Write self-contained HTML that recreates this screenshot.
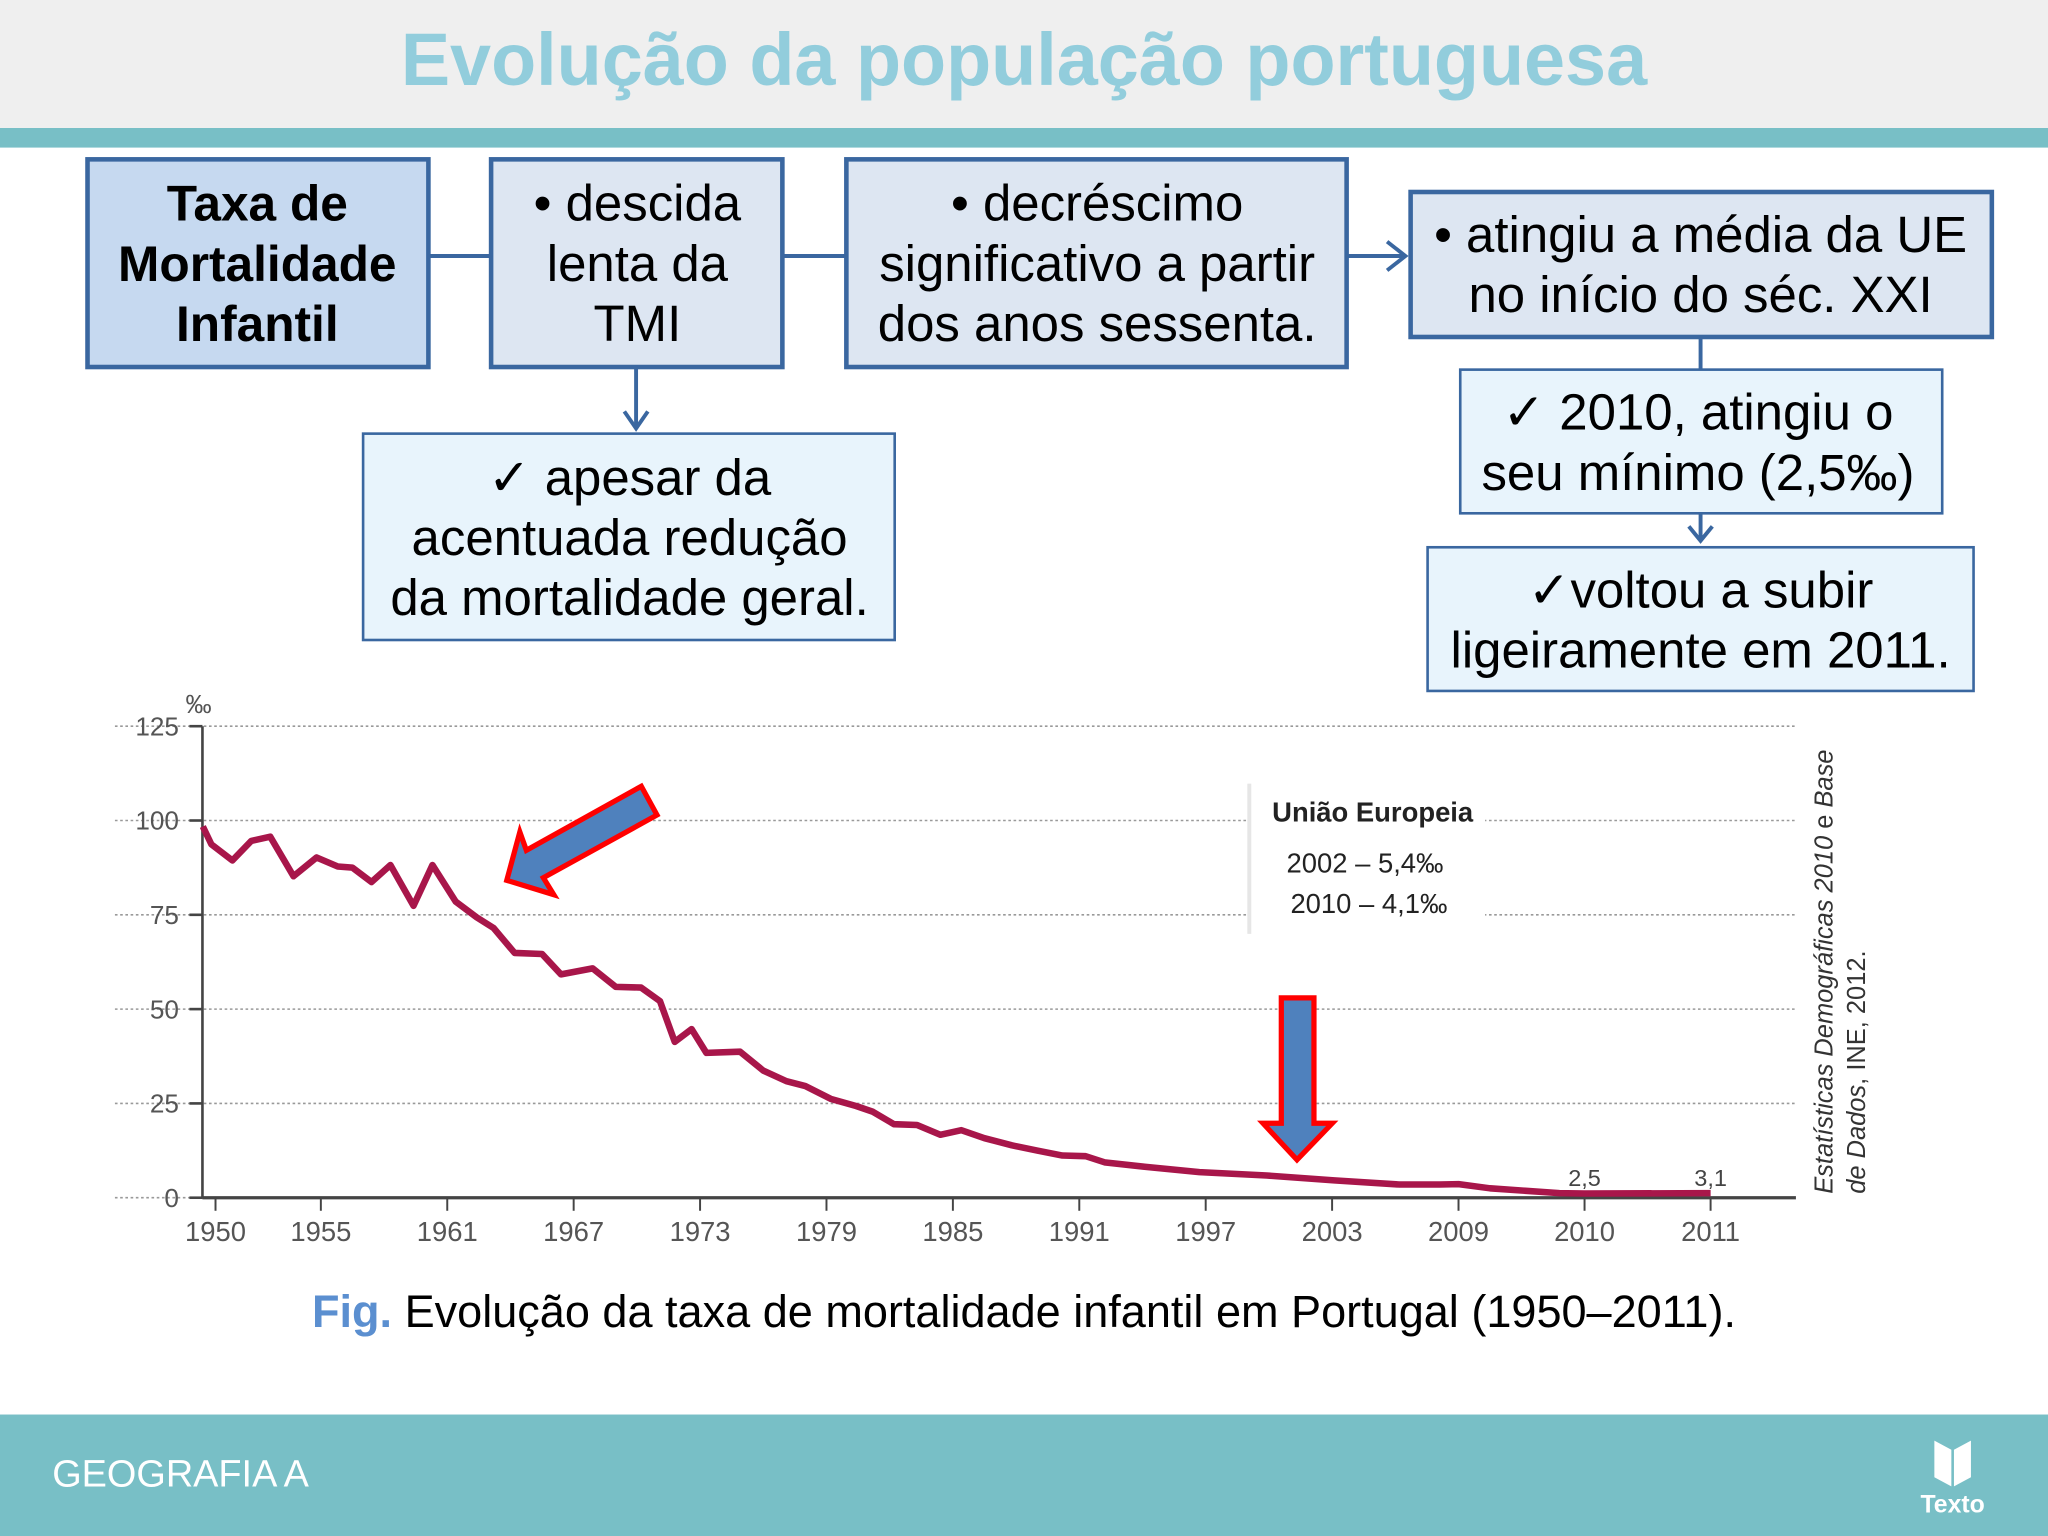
<!DOCTYPE html>
<html><head><meta charset="utf-8"><style>
html,body{margin:0;padding:0;background:#fff;}
svg{display:block;font-family:"Liberation Sans",sans-serif;}
</style></head><body>
<svg id="root" width="2048" height="1536" viewBox="0 0 1568 1176" xmlns="http://www.w3.org/2000/svg">
<rect x="0" y="0" width="1568" height="98" fill="#efefef"/>
<text x="784" y="65" text-anchor="middle" font-size="56.5" font-weight="bold" fill="#92cddc">Evolução da população portuguesa</text>
<rect x="0" y="98" width="1568" height="15" fill="#78bfc6"/>

<g stroke="#3a67a0" stroke-width="3" fill="none">
<line x1="328" y1="196" x2="376" y2="196"/>
<line x1="599" y1="196" x2="648" y2="196"/>
<line x1="1031" y1="196" x2="1076" y2="196"/>
<polyline points="1062,185 1076,196 1062,207"/>
<line x1="487" y1="281" x2="487" y2="328"/>
<polyline points="478,315 487,328 496,315"/>
<line x1="1302" y1="258" x2="1302" y2="283"/>
<line x1="1302" y1="393" x2="1302" y2="414"/>
<polyline points="1293,403 1302,414 1311,403"/>
</g>

<g>
<rect x="67" y="122" width="261" height="159" fill="#c6d9f0" stroke="#3a67a0" stroke-width="3.5"/>
<text font-size="38" font-weight="bold" fill="#000" text-anchor="middle"><tspan x="197" y="169">Taxa de</tspan><tspan x="197" y="215">Mortalidade</tspan><tspan x="197" y="261">Infantil</tspan></text>
</g>
<g>
<rect x="376" y="122" width="223" height="159" fill="#dde6f2" stroke="#3a67a0" stroke-width="3.5"/>
<text font-size="39" fill="#000" text-anchor="middle"><tspan x="488" y="169">• descida</tspan><tspan x="488" y="215">lenta da</tspan><tspan x="488" y="261">TMI</tspan></text>
</g>
<g>
<rect x="648" y="122" width="383" height="159" fill="#dde6f2" stroke="#3a67a0" stroke-width="3.5"/>
<text font-size="39" fill="#000" text-anchor="middle"><tspan x="840" y="169">• decréscimo</tspan><tspan x="840" y="215">significativo a partir</tspan><tspan x="840" y="261">dos anos sessenta.</tspan></text>
</g>
<g>
<rect x="1080" y="147" width="445" height="111" fill="#dde6f2" stroke="#3a67a0" stroke-width="3.5"/>
<text font-size="39" fill="#000" text-anchor="middle"><tspan x="1302" y="193">• atingiu a média da UE</tspan><tspan x="1302" y="239">no início do séc. XXI</tspan></text>
</g>
<g>
<rect x="1118" y="283" width="369" height="110" fill="#e8f4fc" stroke="#3a67a0" stroke-width="2"/>
<text font-size="39" fill="#000" text-anchor="middle"><tspan x="1300" y="329">✓ 2010, atingiu o</tspan><tspan x="1300" y="375">seu mínimo (2,5‰)</tspan></text>
</g>
<g>
<rect x="1093" y="419" width="418" height="110" fill="#e8f4fc" stroke="#3a67a0" stroke-width="2"/>
<text font-size="39" fill="#000" text-anchor="middle"><tspan x="1302" y="465">✓voltou a subir</tspan><tspan x="1302" y="511">ligeiramente em 2011.</tspan></text>
</g>
<g>
<rect x="278" y="332" width="407" height="158" fill="#e8f4fc" stroke="#3a67a0" stroke-width="2"/>
<text font-size="39" fill="#000" text-anchor="middle"><tspan x="482" y="379">✓ apesar da</tspan><tspan x="482" y="425">acentuada redução</tspan><tspan x="482" y="471">da mortalidade geral.</tspan></text>
</g>

<g id="chart"></g>

<g>
<rect x="955" y="597" width="182" height="121" fill="#fff"/>
<rect x="955" y="600" width="3" height="115" fill="#e6e6e6"/>
<text x="974" y="629" font-size="21" font-weight="bold" fill="#222">União Europeia</text>
<text x="985" y="668" font-size="21" fill="#222">2002 – 5,4‰</text>
<text x="988" y="699" font-size="21" fill="#222">2010 – 4,1‰</text>
</g>

<polygon points="388,674 398,637 403,651 491,602 503,624 416,672 424,685" fill="#4f81bd" stroke="#ff0000" stroke-width="4" stroke-linejoin="miter"/>
<polygon points="981,764 1006,764 1006,860 1020,860 993,888 967,860 981,860" fill="#4f81bd" stroke="#ff0000" stroke-width="4"/>

<text transform="translate(1403,914) rotate(-90)" font-size="19.5" fill="#333"><tspan font-style="italic">Estatísticas Demográficas 2010 </tspan><tspan>e </tspan><tspan font-style="italic">Base</tspan></text>
<text transform="translate(1428,914) rotate(-90)" font-size="19.5" fill="#333"><tspan font-style="italic">de Dados</tspan><tspan>, INE, 2012.</tspan></text>

<text x="784" y="1016" text-anchor="middle" font-size="34.5" fill="#000"><tspan font-weight="bold" fill="#5b8fd0">Fig.</tspan> Evolução da taxa de mortalidade infantil em Portugal (1950–2011).</text>

<rect x="0" y="1083" width="1568" height="93" fill="#78bfc6"/>
<text x="40" y="1138" font-size="29" fill="#fff">GEOGRAFIA A</text>
<g>
<path d="M1481,1103 L1494,1110 L1494,1138 L1481,1131 Z M1496,1110 L1509,1103 L1509,1131 L1496,1138 Z" fill="#fff"/>
<text x="1495" y="1158" text-anchor="middle" font-size="19" font-weight="bold" fill="#fff">Texto</text>
</g>
</svg>
<script>
const tickYears = [1950,1955,1961,1967,1973,1979,1985,1991,1997,2003,2009,2010,2011];
const yTicks = [0,25,50,75,100,125];
const years = [1949.4,1949.8,1950.8,1951.7,1952.6,1953.7,1954.8,1955.8,1956.5,1957.4,1958.3,1959.4,1960.3,1961.4,1962.4,1963.2,1964.2,1965.5,1966.4,1967.9,1969,1970.2,1971.1,1971.8,1972.6,1973.3,1974.9,1976,1977.1,1978,1979.2,1980.4,1981.2,1982.2,1983.3,1984.4,1985.4,1986.5,1987.8,1989,1990.2,1991.3,1992.2,1994.1,1996.7,1999.9,2003.1,2006.2,2008.1,2009,2009.25,2009.8,2010,2011];
const values = [98.4,93.7,89.4,94.6,95.7,85.2,90.2,87.8,87.5,83.7,88.2,77.4,88.2,78.5,74.3,71.5,64.9,64.6,59.2,60.8,55.9,55.7,52.1,41.3,44.7,38.4,38.7,33.7,30.9,29.6,26.2,24.3,22.8,19.5,19.3,16.7,17.9,15.8,13.9,12.5,11.2,11.0,9.4,8.2,6.8,5.9,4.6,3.5,3.5,3.6,2.5,1.2,1.1,1.2];
const labelYears = [2010,2011];
const labelTexts = ["2,5","3,1"];

const NS="http://www.w3.org/2000/svg";
const chart=document.getElementById('chart');
const X0=165, PER=16.13, BIG=96.5, Y0=917, Y1=556, AXL=155, AXR=1375;
function xs(yr){ if(yr<=2009) return X0+(yr-1950)*PER; return X0+59*PER+(yr-2009)*BIG; }
function ys(v){ return Y0-(v/125)*(Y0-Y1); }
function mk(tag,attrs){const e=document.createElementNS(NS,tag);for(const k in attrs)e.setAttribute(k,attrs[k]);chart.appendChild(e);return e;}

yTicks.forEach(v=>{
  const g=mk('line',{x1:88,x2:AXR,y1:ys(v),y2:ys(v),stroke:'#999','stroke-width':1.2,'stroke-dasharray':'2,2'});
  
  
  const t=mk('line',{x1:AXL-10,x2:AXL,y1:ys(v),y2:ys(v),stroke:'#444','stroke-width':2});
  
  
  const l=mk('text',{x:137,y:ys(v)+7,'text-anchor':'end','font-size':20,fill:'#555'});
  l.textContent=v;
  
  
});
const u=mk('text',{x:152,y:546,'text-anchor':'middle','font-size':20,fill:'#555'});
u.textContent='‰';



const ya=mk('line',{x1:AXL,x2:AXL,y1:Y1,y2:Y0,stroke:'#444','stroke-width':2});


const xa=mk('line',{x1:AXL,x2:AXR,y1:Y0,y2:Y0,stroke:'#444','stroke-width':2.5});



tickYears.forEach(yr=>{
  const x=xs(yr);
  const t=mk('line',{x1:x,x2:x,y1:Y0,y2:Y0+10,stroke:'#444','stroke-width':1.5});
  
  
  const l=mk('text',{x:x,y:950,'text-anchor':'middle','font-size':21,fill:'#555'});
  l.textContent=yr;
  
  
});

const pts=years.map((yr,i)=>xs(yr).toFixed(1)+','+ys(values[i]).toFixed(1)).join(' ');
const line=mk('polyline',{points:pts,fill:'none',stroke:'#a8164a','stroke-width':5,'stroke-linejoin':'round'});



labelYears.forEach((yr,i)=>{
  const l=mk('text',{x:xs(yr),y:908,'text-anchor':'middle','font-size':18,fill:'#444'});
  l.textContent=labelTexts[i];
  
  
});
</script>
</body></html>
